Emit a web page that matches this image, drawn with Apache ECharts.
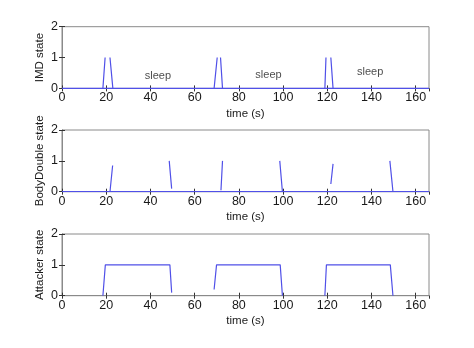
<!DOCTYPE html>
<html><head><meta charset="utf-8">
<script src="https://cdn.jsdelivr.net/npm/echarts@6/dist/echarts.min.js"></script>
<style>html,body{margin:0;padding:0;background:#fff}#c{width:474px;height:348px}</style>
</head><body><div id="c"></div>
<script>
// time axis
const xTicks = [0, 20, 40, 60, 80, 100, 120, 140, 160];
const xMax = 166;
const yTicks = [0, 1, 2];
const panelNames = ['IMD state', 'BodyDouble state', 'Attacker state'];
// visible traces [time, state]; null breaks the line
const imdBaseline = [[0, 0], [166, 0]];
const imdState = [[18.5, 0], [19.5, 1], null, [21.7, 1], [23, 0], null,
  [68.8, 0], [70.2, 1], null, [71.7, 1], [72.6, 0], null,
  [118.9, 0], [119.4, 1], null, [121.6, 1], [122.6, 0]];
const bodyBaseline = [[0, 0], [166, 0]];
const bodyDoubleState = [[21.7, 0], [22.9, 0.85], null, [48.5, 1], [49.6, 0.1], null,
  [71.9, 0.05], [72.6, 1], null, [98.5, 1], [99.7, 0], null,
  [121.6, 0.25], [122.6, 0.9], null, [148.3, 1], [149.7, 0]];
const attackerState = [[18.5, 0], [19.6, 1], [48.8, 1], [49.6, 0.1], null,
  [68.8, 0.2], [69.9, 1], [98.7, 1], [99.7, 0], null,
  [118.9, 0], [119.6, 1], [148.5, 1], [149.7, 0]];
const sleepLabels = [[43.4, 0.41, 'sleep'], [93.4, 0.43, 'sleep'], [139.4, 0.52, 'sleep']];

const chart = echarts.init(document.getElementById('c'), null, {renderer: 'canvas'});
const font = 'Liberation Sans, Arial, sans-serif';
const narrow = '"Liberation Sans Narrow", "Arial Narrow", Liberation Sans, sans-serif';
const tops = [26.7, 130, 234];
const H = 61.7;
const grids = tops.map(t => ({left: 62, width: 367, top: t, height: H, show: true, borderColor: '#8a8a8a', borderWidth: 1, backgroundColor: 'transparent'}));
const xAxes = [], yAxes = [];
for (let i = 0; i < 3; i++) {
  xAxes.push({type: 'value', gridIndex: i, min: 0, max: xMax, interval: 20, position: 'bottom',
    name: 'time (s)', nameLocation: 'middle', nameGap: 19, nameMoveOverlap: false,
    nameTextStyle: {fontFamily: font, fontSize: 11.5, color: '#1a1a1a'},
    axisLine: {show: true, lineStyle: {color: '#8a8a8a'}},
    axisTick: {show: true, inside: true, length: 3, lineStyle: {color: '#333'}},
    axisLabel: {fontFamily: narrow, fontSize: 12.5, color: '#1a1a1a', margin: 3, showMaxLabel: false,
      formatter: v => xTicks.includes(v) ? String(v) : ''},
    splitLine: {show: false}});
  xAxes.push({type: 'value', gridIndex: i, min: 0, max: xMax, interval: 20, position: 'top',
    axisLine: {show: true, lineStyle: {color: '#8a8a8a'}},
    axisTick: {show: true, inside: true, length: 3, lineStyle: {color: '#333'}},
    axisLabel: {show: false}, splitLine: {show: false}});
  yAxes.push({type: 'value', gridIndex: i, min: 0, max: 2, interval: 1, position: 'left',
    name: panelNames[i], nameLocation: 'middle', nameGap: 16, nameMoveOverlap: false,
    nameTextStyle: {fontFamily: font, fontSize: 11.5, color: '#1a1a1a'},
    axisLine: {show: true, lineStyle: {color: '#8a8a8a'}},
    axisTick: {show: true, inside: true, length: 3, lineStyle: {color: '#333'}},
    axisLabel: {fontFamily: narrow, fontSize: 12.5, color: '#1a1a1a', margin: 4,
      formatter: v => yTicks.includes(v) ? String(v) : ''},
    splitLine: {show: false}});
  yAxes.push({type: 'value', gridIndex: i, min: 0, max: 2, interval: 1, position: 'right',
    axisLine: {show: true, lineStyle: {color: '#8a8a8a'}},
    axisTick: {show: true, inside: true, length: 3, lineStyle: {color: '#333'}},
    axisLabel: {show: false}, splitLine: {show: false}});
}
const lineStyle = {color: '#5050e8', width: 1.2};
function line(data, i) {
  return {type: 'line', xAxisIndex: 2 * i, yAxisIndex: 2 * i, data: data, showSymbol: false,
    connectNulls: false, lineStyle: lineStyle, itemStyle: {color: '#5050e8'}, silent: true, animation: false, z: 3};
}
const series = [line(imdBaseline, 0), line(imdState, 0), line(bodyBaseline, 1), line(bodyDoubleState, 1), line(attackerState, 2)];
series.push({type: 'scatter', xAxisIndex: 0, yAxisIndex: 0, symbolSize: 0, data: sleepLabels, animation: false,
  label: {show: true, position: 'inside', formatter: p => p.data[2], fontFamily: font, fontSize: 11, color: '#1a1a1a'}});
chart.setOption({animation: false, backgroundColor: '#fff', grid: grids, xAxis: xAxes, yAxis: yAxes, series: series});
</script></body></html>
